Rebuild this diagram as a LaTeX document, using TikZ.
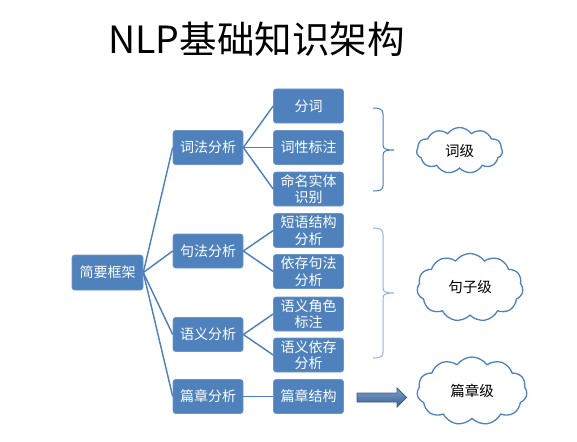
\documentclass[tikz,border=0pt]{standalone}
\usepackage{fontspec}
\setmainfont{Noto Sans CJK SC}
\usetikzlibrary{shapes.symbols}
\definecolor{boxblue}{HTML}{4F81BD}
\definecolor{boxedge}{HTML}{6F95C8}
\definecolor{linkblue}{HTML}{4A7EBB}
\definecolor{bracedark}{HTML}{4A7EBB}
\definecolor{bracelight}{HTML}{8EB4E3}
\definecolor{arrowdark}{HTML}{385D8A}
\begin{document}
\begin{tikzpicture}[x=1pt,y=-1pt,
  blk/.style={draw=boxedge,line width=0.6pt,fill=boxblue,rounded corners=2.5pt,
    text=white,font=\fontsize{14}{16.5}\selectfont,align=center,
    minimum width=70pt,minimum height=34pt,inner sep=1pt},
  rootblk/.style={blk,minimum width=71pt,minimum height=35pt},
  link/.style={draw=linkblue,line width=1.4pt},
  level/.style={cloud,cloud puffs=11,cloud puff arc=110,draw=boxblue,line width=1.3pt,
    fill=white,font=\fontsize{14.5}{16}\selectfont,inner sep=0pt},
  bracel/.style={line width=1pt}]
\useasboundingbox (0,0) rectangle (577,441);
\node[font=\fontsize{37.5}{40}\selectfont,anchor=center] (title) at (256.5,39) {NLP基础知识架构};
% root
\node[rootblk] (root) at (107.5,272.5) {简要框架};
% level 2
\node[blk] (l1) at (208,147.5) {词法分析};
\node[blk] (l2) at (208,251) {句法分析};
\node[blk] (l3) at (208,334.5) {语义分析};
\node[blk] (l4) at (208,396.5) {篇章分析};
% level 3
\node[blk] (a1) at (308.5,106) {分词};
\node[blk] (a2) at (308.5,147.5) {词性标注};
\node[blk] (a3) at (308.5,189) {命名实体\\识别};
\node[blk] (b1) at (308.5,230.5) {短语结构\\分析};
\node[blk] (b2) at (308.5,271.5) {依存句法\\分析};
\node[blk] (c1) at (308.5,314) {语义角色\\标注};
\node[blk] (c2) at (308.5,355) {语义依存\\分析};
\node[blk] (d1) at (308.5,396.5) {篇章结构};
% links
\foreach \t in {l1,l2,l3,l4} \draw[link] (root.east) -- (\t.west);
\foreach \t in {a1,a2,a3} \draw[link] (l1.east) -- (\t.west);
\foreach \t in {b1,b2} \draw[link] (l2.east) -- (\t.west);
\foreach \t in {c1,c2} \draw[link] (l3.east) -- (\t.west);
\draw[link] (l4.east) -- (d1.west);
% braces
\coordinate (br1t) at (373,108);
\coordinate (br1b) at (373,191);
\coordinate (br1m) at (394,150);
\draw[bracel,draw=bracedark] (br1t) .. controls (379,108) and (383,109) .. (383,114)
  -- (383,145) .. controls (383,149) and (386,150) .. (br1m)
  (br1m) .. controls (386,150) and (383,151) .. (383,155)
  -- (383,186) .. controls (383,190) and (379,191) .. (br1b);
\coordinate (br2t) at (373,228);
\coordinate (br2b) at (373,358);
\coordinate (br2m) at (394,293);
\draw[bracel,draw=bracelight] (br2t) .. controls (379,228) and (383,229) .. (383,234)
  -- (383,288) .. controls (383,292) and (386,293) .. (br2m)
  (br2m) .. controls (386,293) and (383,294) .. (383,298)
  -- (383,353) .. controls (383,357) and (379,358) .. (br2b);
% clouds
\node[level,minimum width=86pt,minimum height=46pt] (w) at (459.5,150.5) {词级};
\node[level,minimum width=106pt,minimum height=45pt] (s) at (470,287.5) {句子级};
\node[level,minimum width=110pt,minimum height=48pt] (p) at (472,391) {篇章级};
% block arrow
\draw[draw=arrowdark,line width=0.9pt,top color=boxblue!75!white,bottom color=boxblue!75!black,
  line join=miter]
  (357,393) -- (397,393) -- (397,388) -- (406.5,397.5) -- (397,407) -- (397,402) -- (357,402) -- cycle;
\end{tikzpicture}
\end{document}
